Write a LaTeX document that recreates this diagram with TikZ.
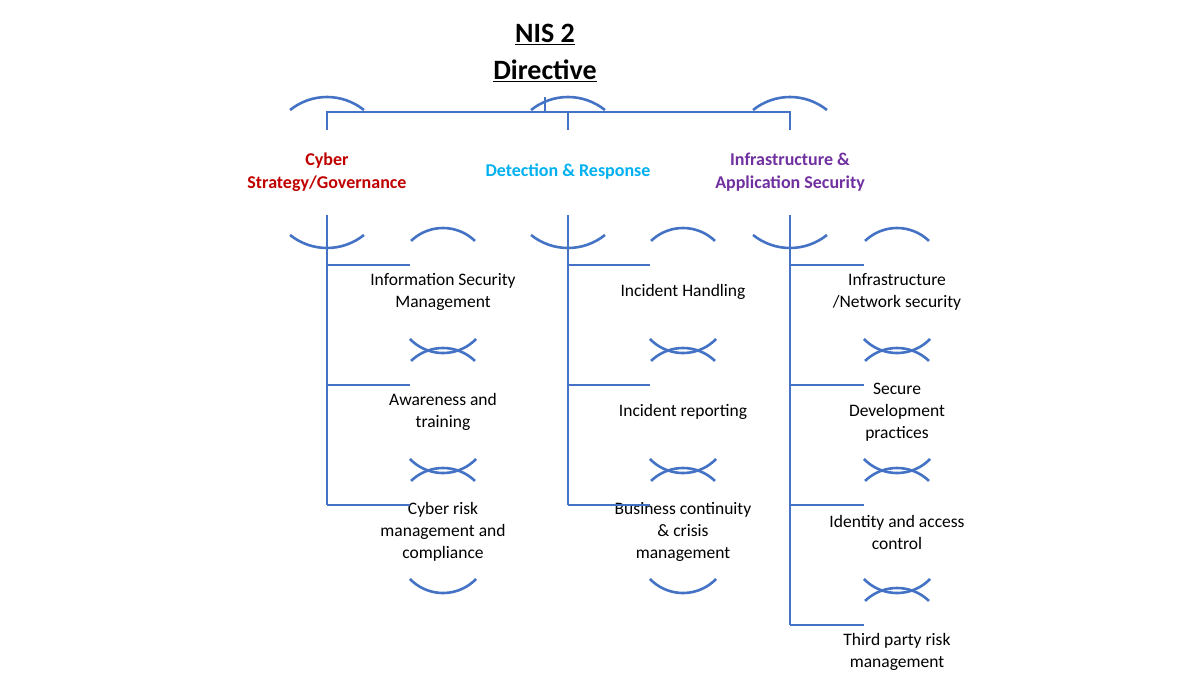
\documentclass[tikz,border=0pt]{standalone}
\usepackage{fontspec}
\setmainfont{Carlito}
\begin{document}
\begin{tikzpicture}[x=1pt,y=-1pt,
  ln/.style={draw={rgb,255:red,68;green,114;blue,196},line width=2.6pt},
  head/.style={font=\fontsize{18}{23}\selectfont\bfseries,align=center},
  child/.style={font=\fontsize{17.5}{22}\selectfont,align=center}]
\useasboundingbox (0,0) rectangle (1200,698);
\definecolor{cred}{RGB}{192,0,0}
\definecolor{cblue}{RGB}{0,176,240}
\definecolor{cpur}{RGB}{112,48,160}
\node[font=\fontsize{28}{37}\selectfont\bfseries,align=center] (title) at (545,53) {\underline{NIS 2}\\\underline{Directive}};
\coordinate (tb) at (545,97);
\coordinate (bar) at (545,112);
% heads
\foreach \n/\x in {h1/327,h2/568,h3/790}{
  \coordinate (\n) at (\x,172);
  \coordinate (\n-top) at (\x,130);
  \coordinate (\n-bot) at (\x,215);
  \draw[ln] (\x,189) ++(51.2:59) arc (51.2:128.8:59);
  \draw[ln] (\x,156) ++(-51.2:59) arc (-51.2:-128.8:59);
}
\node[head,text=cred] (t1) at (h1) {Cyber\\Strategy/Governance};
\node[head,text=cblue] (t2) at (h2) {Detection \& Response};
\node[head,text=cpur] (t3) at (h3) {Infrastructure \&\\Application Security};
\draw[ln] (tb) -- (bar);
\draw[ln] (h1-top) |- (h3-top |- bar) -- (h3-top);
\draw[ln] (h2-top) -- (h2-top |- bar);
% children
\newcommand{\child}[5]{% name, cx, row y, trunk x, text
  \coordinate (#1) at (#2,#3+27);
  \coordinate (#1-l) at (#2-33,#3);
  \draw[ln] (#2,#3+42) ++(44:46) arc (44:136:46);
  \draw[ln] (#2,#3+9) ++(-46:46) arc (-46:-134:46);
  \node[child] (#1-t) at (#1) {#5};
  \draw[ln] (#4,#3) -- (#1-l);
}
\child{a1}{443}{265}{327}{Information Security\\Management}
\child{a2}{443}{385}{327}{Awareness and\\training}
\child{a3}{443}{505}{327}{Cyber risk\\management and\\compliance}
\child{b1}{683}{265}{568}{Incident Handling}
\child{b2}{683}{385}{568}{Incident reporting}
\child{b3}{683}{505}{568}{Business continuity\\\& crisis\\management}
\child{c1}{897}{265}{790}{Infrastructure\\/Network security}
\child{c2}{897}{385}{790}{Secure\\Development\\practices}
\child{c3}{897}{505}{790}{Identity and access\\control}
\child{c4}{897}{625}{790}{Third party risk\\management}
\draw[ln] (h1-bot) -- (327,505);
\draw[ln] (h2-bot) -- (568,505);
\draw[ln] (h3-bot) -- (790,625);
\end{tikzpicture}
\end{document}
